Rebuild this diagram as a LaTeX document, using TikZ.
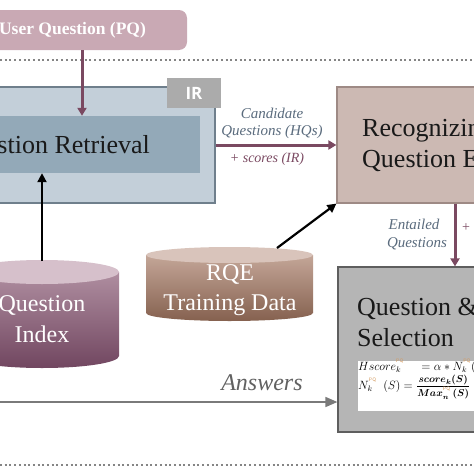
\documentclass[tikz,border=0pt]{standalone}
\usepackage{fontspec}
\setmainfont{Liberation Serif}
\newfontfamily\tagfont{Open Sans}
\usetikzlibrary{arrows.meta,positioning}

\definecolor{pqpink}{HTML}{C9A9B4}
\definecolor{flowred}{HTML}{7A4961}
\definecolor{irouter}{HTML}{C3CFD9}
\definecolor{irinner}{HTML}{93A9B8}
\definecolor{irline}{HTML}{6F7F8C}
\definecolor{irtag}{HTML}{ABABAB}
\definecolor{rqefill}{HTML}{CCB9B3}
\definecolor{rqeline}{HTML}{9E8A85}
\definecolor{selfill}{HTML}{B5B5B5}
\definecolor{selline}{HTML}{5E5E5E}
\definecolor{qidxface}{HTML}{D6C0CB}
\definecolor{qidxhi}{HTML}{AF8EA0}
\definecolor{qidxlo}{HTML}{714660}
\definecolor{trainface}{HTML}{D9C4BB}
\definecolor{trainhi}{HTML}{C4A698}
\definecolor{trainlo}{HTML}{85614F}
\definecolor{slate}{HTML}{5A6B7D}
\definecolor{dotgray}{HTML}{858585}
\definecolor{ansgray}{HTML}{7A7A7A}
\definecolor{pqorange}{HTML}{D49A5E}

\newcommand\pqsup{\mbox{\raisebox{3pt}{\textcolor{pqorange}{\sffamily\fontsize{5}{5}\selectfont PQ}}}}

\begin{document}
\begin{tikzpicture}[x=1pt, y=-1pt,
        box/.style={draw, line width=1.2pt, inner sep=0pt},
        bigtext/.style={anchor=base west, inner sep=0pt, text=black!90,
            font=\fontsize{26}{31}\selectfont},
        dbtext/.style={anchor=base, inner sep=0pt, text=white,
            font=\fontsize{24}{30}\selectfont},
        hint/.style={anchor=base, inner sep=0pt, text=slate,
            font=\itshape\fontsize{15}{17}\selectfont},
        flow/.style={draw=flowred, line width=3pt,
            -{Triangle[width=9pt, length=8pt]}},
        dataflow/.style={draw=black, line width=2.2pt,
            -{Triangle[width=9pt, length=9pt]}},
        separator/.style={draw=dotgray, line width=1.8pt,
            dash pattern=on 2pt off 2.7pt},
    ]
        \useasboundingbox (0,0) rectangle (474,474);
        \clip (0,0) rectangle (474,474);

        % separators
        \draw[separator] (0,60) -- (474,60);
        \draw[separator] (0,465) -- (474,465);

        % user question
        \node[fill=pqpink, rounded corners=8pt, minimum width=229pt,
            minimum height=40pt, text=white,
            font=\bfseries\fontsize{17.5}{17.5}\selectfont] (pq) at (72.5,30) {User Question (PQ)};

        % IR block
        \node[box, draw=irline, fill=irouter, minimum width=255pt,
            minimum height=116pt] (ir) at (87.5,145) {};
        \node[fill=irtag, text=white, inner sep=0pt, minimum width=54pt,
            minimum height=30pt, font=\tagfont\bfseries\fontsize{17}{17}\selectfont] (irtag) at (194,93) {IR};
        \node[fill=irinner, inner sep=0pt, minimum width=240pt,
            minimum height=57pt] (qr) at (80,144.5) {};
        \node[bigtext, anchor=base east] (qrtext) at (150,153) {Question Retrieval};

        % RQE block
        \node[box, draw=rqeline, fill=rqefill, minimum width=183pt,
            minimum height=116pt] (rqe) at (428.5,145) {};
        \node[bigtext] (rqe1) at (362,136) {Recognizing};
        \node[bigtext] (rqe2) at (362,167) {Question Entailment};

        % selection block
        \node[box, draw=selline, fill=selfill, minimum width=182pt,
            minimum height=165pt] (sel) at (429,349.5) {};
        \node[bigtext] (sel1) at (357,315) {Question \& Answer};
        \node[bigtext] (sel2) at (357,346) {Selection};
        \node[fill=white, inner sep=0pt, minimum width=162pt,
            minimum height=50pt] (fbox) at (439,386) {};
        \node[anchor=base west, inner sep=0pt, font=\fontsize{12}{12}\selectfont] (hscore) at (358,370)
            {$Hscore_k^{\pqsup}\hspace{14pt}= \alpha * N_k^{\pqsup}(S)$};
        \node[anchor=base west, inner sep=0pt, font=\fontsize{12}{12}\selectfont] (nscore) at (358,389)
            {$N_k^{\pqsup}\;\;(S) = \frac{\mbox{\boldmath\fontsize{10}{10}\selectfont$score_k(S)$}}{\mbox{\boldmath\fontsize{10}{10}\selectfont$Max_n^{\pqsup}\,(S)$}}$};

        % databases
        \shade[top color=qidxhi, bottom color=qidxlo] (-35,272) -- (-35,356)
            arc[start angle=180, end angle=0, x radius=77, y radius=12] -- (119,272) -- cycle;
        \fill[qidxface] (42,272) ellipse[x radius=77, y radius=12];
        \coordinate (qidxtop) at (42,261);
        \node[dbtext] (qidx1) at (42,311) {Question};
        \node[dbtext] (qidx2) at (42,342) {Index};

        \shade[top color=trainhi, bottom color=trainlo] (146,255) -- (146,313)
            arc[start angle=180, end angle=0, x radius=83.5, y radius=8] -- (313,255) -- cycle;
        \fill[trainface] (229.5,255) ellipse[x radius=83.5, y radius=8];
        \coordinate (traintop) at (277,248);
        \node[dbtext] (train1) at (230,280) {RQE};
        \node[dbtext] (train2) at (230,310) {Training Data};

        % connectors
        \draw[flow] ([xshift=9.5pt]pq.south) -- ([xshift=9.5pt]pq.south |- qr.north);
        \draw[flow] (ir.east) -- (rqe.west);
        \node[hint] (cand1) at (272,118) {Candidate};
        \node[hint] (cand2) at (272,135) {Questions (HQs)};
        \node[hint, text=flowred, font=\itshape\fontsize{14}{14}\selectfont] (scores) at (267,162) {+ scores (IR)};

        \draw[flow] ([xshift=26.5pt]rqe.south) -- ([xshift=26.5pt]rqe.south |- sel.north);
        \node[hint] (ent1) at (414,229) {Entailed};
        \node[hint] (ent2) at (417,247) {Questions};
        \node[hint, text=flowred, font=\fontsize{14}{14}\selectfont] (entplus) at (466,231) {+};

        \draw[dataflow] (qidxtop) -- (qidxtop |- qr.south);
        \draw[dataflow] (traintop) -- (rqe.south west);

        \coordinate (ansstart) at (0,402);
        \draw[draw=ansgray, line width=1.5pt, -{Triangle[width=10pt, length=12pt]}]
            (ansstart) -- (ansstart -| sel.west);
        \node[hint, text=black!62, font=\itshape\fontsize{24}{24}\selectfont] (answers) at (262,390) {Answers};
    \end{tikzpicture}
\end{document}
